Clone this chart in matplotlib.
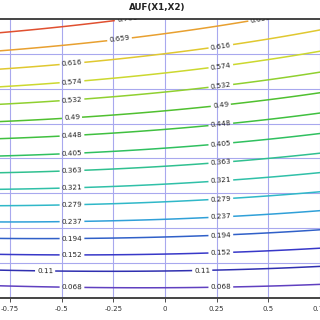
import numpy as np
import matplotlib
matplotlib.use("Agg")
import matplotlib.pyplot as plt

# Response-surface coefficients
coef_names = ["b0", "b1", "b2", "b12", "b11", "b22"]
coef_values = [0.381, -0.031, 0.324, -0.031, -0.011, -0.015]

# Contour levels as labelled in the chart
levels = [0.068, 0.11, 0.152, 0.194, 0.237, 0.279, 0.321, 0.363,
          0.405, 0.448, 0.49, 0.532, 0.574, 0.616, 0.659, 0.701]
level_labels = ["0.068", "0.11", "0.152", "0.194", "0.237", "0.279", "0.321", "0.363",
                "0.405", "0.448", "0.49", "0.532", "0.574", "0.616", "0.659", "0.701"]

# X1 positions where the labels sit (left and right column), None = no label
label_x_left = [-0.45, -0.58, -0.45, -0.45, -0.45, -0.45, -0.45, -0.45,
                -0.45, -0.45, -0.45, -0.45, -0.45, -0.45, -0.22, -0.18]
label_x_right = [0.27, 0.18, 0.27, 0.27, 0.27, 0.27, 0.27, 0.27,
                 0.27, 0.27, 0.27, 0.27, 0.27, 0.27, 0.49, None]

xticks = [-0.75, -0.5, -0.25, 0, 0.25, 0.5, 0.75]
xtick_labels = ["-0.75", "-0.5", "-0.25", "0", "0.25", "0.5", "0.75"]
yticks = [-0.75, -0.5, -0.25, 0, 0.25, 0.5, 0.75]

title = "AUF(X1,X2)"

# line colours, one per level (low -> high)
line_colors = ["#6040c0", "#3030b0", "#3838c8", "#3060c8", "#30a0d8", "#30b8c8",
               "#30c0a8", "#30c090", "#30c060", "#40c040", "#50c030", "#90d030",
               "#ccd830", "#e0c830", "#e8a030", "#e05030"]

c = dict(zip(coef_names, coef_values))


def auf(x1, x2):
    return (c["b0"] + c["b1"] * x1 + c["b2"] * x2 + c["b12"] * x1 * x2
            + c["b11"] * x1 ** 2 + c["b22"] * x2 ** 2)


x1 = np.linspace(-1, 1, 301)
x2 = np.linspace(-1, 1, 301)
X1, X2 = np.meshgrid(x1, x2)
Z = auf(X1, X2)

fig = plt.figure(figsize=(3.2, 3.2), dpi=100)
ax = fig.add_axes([-0.1303, 0.06875, 1.2919, 0.8719])
ax.set_xlim(-1, 1)
ax.set_ylim(-1, 1)

ax.set_xticks(xticks)
ax.set_xticklabels(xtick_labels, fontsize=5, color="#333333")
ax.set_yticks(yticks)
ax.set_yticklabels([])
ax.tick_params(axis="x", length=3, width=0.6, pad=3, colors="#333333")
ax.tick_params(axis="y", length=0)
ax.grid(True, color="#a8a8ee", lw=0.8)
ax.set_axisbelow(True)
for side in ["top", "bottom"]:
    ax.spines[side].set_color("#444444")
    ax.spines[side].set_linewidth(1.4)

cs = ax.contour(X1, X2, Z, levels=levels, colors=line_colors, linewidths=1.1)


def x2_at(level, xv):
    col = auf(xv, x2)
    return float(np.interp(level, col, x2))


manual = []
for lv, xl, xr in zip(levels, label_x_left, label_x_right):
    for xv in (xl, xr):
        if xv is not None:
            manual.append((xv, x2_at(lv, xv)))

fmt = dict(zip(levels, level_labels))
lbls = ax.clabel(cs, levels=levels, fmt=fmt, manual=manual, inline=True,
                 inline_spacing=2, fontsize=5.2, colors="#222222")

fig.text(157 / 320, 0.978, title, ha="center", va="center",
         fontsize=6.3, fontweight="bold", color="#222222")

fig.savefig("out.png", dpi=100)
